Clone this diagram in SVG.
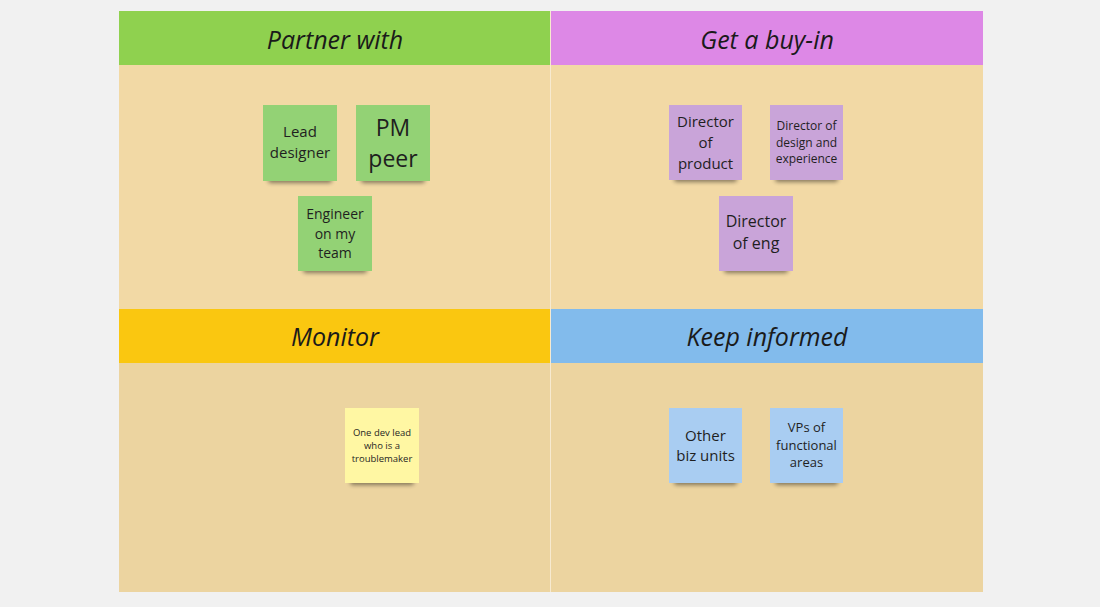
<svg xmlns="http://www.w3.org/2000/svg" width="1100" height="607" viewBox="0 0 1100 607">
<style>
.hd{font-family:"Open Sans","Liberation Sans",sans-serif;font-style:italic;font-size:25px;fill:#1a1a1a;text-anchor:middle;dominant-baseline:central}
.t{font-family:"Open Sans","Liberation Sans",sans-serif;fill:#1f1f1f;text-anchor:middle;dominant-baseline:central}
.g{fill:#93d275}.p{fill:#c9a4d9}.y{fill:#fff7a3}.b{fill:#a9cdf2}
.s{fill:#000;opacity:0.45;filter:url(#bl)}
</style>
<defs>
<filter id="bl" x="-20%" y="-100%" width="140%" height="300%">
<feGaussianBlur stdDeviation="2.2"/>
</filter>
</defs>
<rect width="1100" height="607" fill="#f1f1f1"/>
<g id="board">
<rect x="119" y="65" width="864" height="244" fill="#f2d9a5"/>
<rect x="119" y="363" width="864" height="229" fill="#ecd4a0"/>
<rect x="119" y="11" width="431" height="54" fill="#8fd14f"/>
<rect x="551" y="11" width="432" height="54" fill="#dd88e6"/>
<rect x="119" y="309" width="431" height="54" fill="#fac710"/>
<rect x="551" y="309" width="432" height="54" fill="#82bbec"/>
<line x1="550.5" y1="11" x2="550.5" y2="592" stroke="#f7ead0" stroke-width="1"/>
<text class="hd" x="335" y="39">Partner with</text>
<text class="hd" x="767" y="39">Get a buy-in</text>
<text class="hd" x="335" y="336">Monitor</text>
<text class="hd" x="767" y="336">Keep informed</text>
</g>
<g id="lead-designer"><rect class="s" x="268" y="177" width="64" height="6" rx="3"/><rect class="g" x="263" y="105" width="74" height="76"/>
<text class="t" font-size="15"><tspan x="300" y="131">Lead</tspan><tspan x="300" y="152">designer</tspan></text></g>
<g id="pm-peer"><rect class="s" x="361" y="177" width="64" height="6" rx="3"/><rect class="g" x="356" y="105" width="74" height="76"/>
<text class="t" font-size="23"><tspan x="393" y="127">PM</tspan><tspan x="393" y="158">peer</tspan></text></g>
<g id="engineer"><rect class="s" x="303" y="267" width="64" height="6" rx="3"/><rect class="g" x="298" y="196" width="74" height="75"/>
<text class="t" font-size="14"><tspan x="335" y="213">Engineer</tspan><tspan x="335" y="233">on my</tspan><tspan x="335" y="252">team</tspan></text></g>
<g id="dir-product"><rect class="s" x="674" y="176" width="63" height="6" rx="3"/><rect class="p" x="669" y="105" width="73" height="75"/>
<text class="t" font-size="15"><tspan x="705.5" y="121">Director</tspan><tspan x="705.5" y="142">of</tspan><tspan x="705.5" y="163">product</tspan></text></g>
<g id="dir-design"><rect class="s" x="775" y="176" width="63" height="6" rx="3"/><rect class="p" x="770" y="105" width="73" height="75"/>
<text class="t" font-size="12"><tspan x="806.5" y="125">Director of</tspan><tspan x="806.5" y="142">design and</tspan><tspan x="806.5" y="158">experience</tspan></text></g>
<g id="dir-eng"><rect class="s" x="724" y="267" width="64" height="6" rx="3"/><rect class="p" x="719" y="196" width="74" height="75"/>
<text class="t" font-size="16"><tspan x="756" y="221">Director</tspan><tspan x="756" y="243">of eng</tspan></text></g>
<g id="dev-lead"><rect class="s" x="350" y="479" width="64" height="6" rx="3"/><rect class="y" x="345" y="408" width="74" height="75"/>
<text class="t" font-size="9.5"><tspan x="382" y="432">One dev lead</tspan><tspan x="382" y="445">who is a</tspan><tspan x="382" y="458">troublemaker</tspan></text></g>
<g id="other-biz"><rect class="s" x="674" y="479" width="63" height="6" rx="3"/><rect class="b" x="669" y="408" width="73" height="75"/>
<text class="t" font-size="15"><tspan x="705.5" y="435">Other</tspan><tspan x="705.5" y="455">biz units</tspan></text></g>
<g id="vps"><rect class="s" x="775" y="479" width="63" height="6" rx="3"/><rect class="b" x="770" y="408" width="73" height="75"/>
<text class="t" font-size="13"><tspan x="806.5" y="427">VPs of</tspan><tspan x="806.5" y="445">functional</tspan><tspan x="806.5" y="462">areas</tspan></text></g>
<g id="connectors"/>
</svg>
